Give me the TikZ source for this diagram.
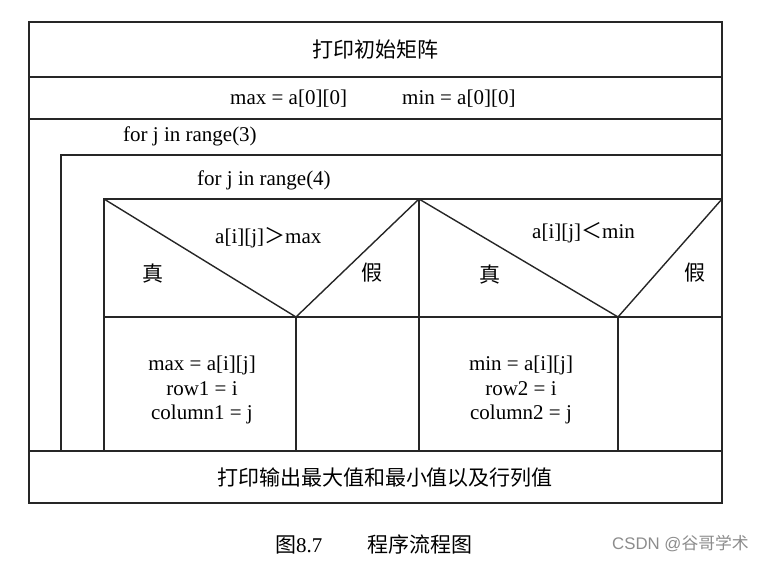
\documentclass[tikz,border=0pt]{standalone}
\usepackage{fontspec}
\setmainfont{Liberation Serif}
\newfontfamily\cjk{Noto Sans CJK SC}
\newfontfamily\wmfont{Liberation Sans}
\begin{document}
\begin{tikzpicture}[x=1pt,y=-1pt,
  frame/.style={line width=1.4pt, draw=black!85},
  txt/.style={inner sep=0pt, font=\fontsize{21}{24.5}\selectfont},
  zh/.style={inner sep=0pt, font=\fontsize{21}{24.5}\selectfont\cjk},
  body/.style={inner sep=0pt, align=center, font=\fontsize{21}{24.5}\selectfont}]
\useasboundingbox (0,0) rectangle (764,562);
% outer frame and horizontal rules
\draw[frame] (29,22) rectangle (722,503);
\draw[frame] (29,77) -- (722,77);
\draw[frame] (29,119) -- (722,119);
\draw[frame] (61,451) -- (61,155) -- (722,155);
\draw[frame] (104,451) -- (104,199) -- (722,199);
\draw[frame] (104,317) -- (722,317);
\draw[frame] (29,451) -- (722,451);
% decision columns
\draw[frame] (419,199) -- (419,451);
\draw[frame] (296,317) -- (296,451);
\draw[frame] (618,317) -- (618,451);
\draw[frame] (104,199) -- (296,317) -- (419,199);
\draw[frame] (419,199) -- (618,317) -- (722,199);
% texts
\node[zh] (init) at (375.5,50) {打印初始矩阵};
\node[txt,anchor=west] (maxinit) at (230,99) {max = a[0][0]};
\node[txt,anchor=west] (mininit) at (402,99) {min = a[0][0]};
\node[txt,anchor=west] (loopi) at (123,136) {for j in range(3)};
\node[txt,anchor=west] (loopj) at (197,180) {for j in range(4)};
\node[txt,anchor=west] (cond1) at (215,238) {a[i][j]{\cjk ＞}max};
\node[zh] (t1) at (153,273) {真};
\node[zh] (f1) at (372,273) {假};
\node[txt,anchor=west] (cond2) at (532,233) {a[i][j]{\cjk ＜}min};
\node[zh] (t2) at (490,274) {真};
\node[zh] (f2) at (695,273) {假};
\node[body] (b1) at (202,390) {max = a[i][j]\\row1 = i\\column1 = j};
\node[body] (b2) at (521,390) {min = a[i][j]\\row2 = i\\column2 = j};
\node[zh] (out) at (385,478) {打印输出最大值和最小值以及行列值};
\node[txt,anchor=west] (cap) at (275,544) {{\cjk 图}8.7\hspace{2.15em}{\cjk 程序流程图}};
\node[inner sep=0pt,anchor=west,text=black!45,font=\fontsize{16.8}{18}\selectfont\wmfont] (wm) at (612,544) {CSDN @{\cjk 谷哥学术}};
\end{tikzpicture}
\end{document}
